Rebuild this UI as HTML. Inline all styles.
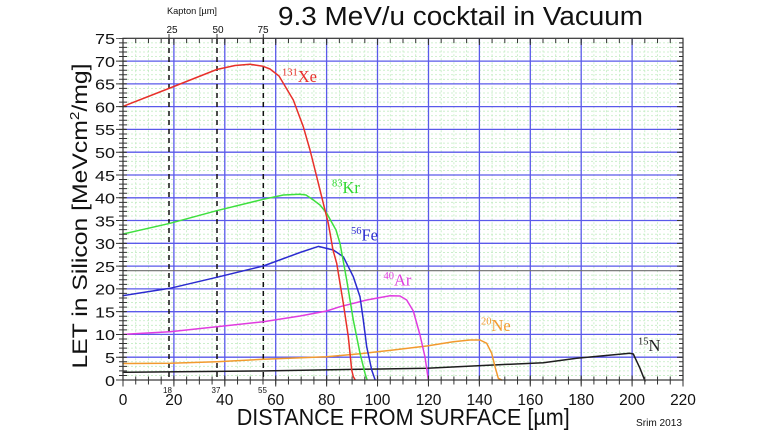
<!DOCTYPE html>
<html><head><meta charset="utf-8"><style>
html,body{margin:0;padding:0;background:#fff;}
svg{display:block;}
text{font-family:"Liberation Sans",Arial,sans-serif;fill:#111;}
.s{font-family:"Liberation Serif","Times New Roman",serif;}
</style></head><body>
<svg width="768" height="432" viewBox="0 0 768 432" xmlns="http://www.w3.org/2000/svg">
<rect width="768" height="432" fill="#fff"/>
<rect x="123" y="38.3" width="560" height="341.7" fill="#fff"/>
<!-- minor grid -->
<path fill="none" stroke="#c2ecc2" stroke-width="0.8" stroke-dasharray="2 2" d="M135.7 38.3V380M148.5 38.3V380M161.2 38.3V380M186.6 38.3V380M199.4 38.3V380M212.1 38.3V380M237.5 38.3V380M250.3 38.3V380M263 38.3V380M288.5 38.3V380M301.2 38.3V380M313.9 38.3V380M339.4 38.3V380M352.1 38.3V380M364.8 38.3V380M390.3 38.3V380M403 38.3V380M415.7 38.3V380M441.2 38.3V380M453.9 38.3V380M466.6 38.3V380M492.1 38.3V380M504.8 38.3V380M517.5 38.3V380M543 38.3V380M555.7 38.3V380M568.5 38.3V380M593.9 38.3V380M606.6 38.3V380M619.4 38.3V380M644.8 38.3V380M657.5 38.3V380M670.3 38.3V380
M123 375.44H683M123 370.89H683M123 366.33H683M123 361.78H683M123 352.66H683M123 348.11H683M123 343.55H683M123 339H683M123 329.88H683M123 325.33H683M123 320.77H683M123 316.22H683M123 307.1H683M123 302.55H683M123 297.99H683M123 293.44H683M123 284.32H683M123 279.77H683M123 275.21H683M123 261.54H683M123 256.99H683M123 252.43H683M123 247.88H683M123 238.76H683M123 234.21H683M123 229.65H683M123 225.1H683M123 215.98H683M123 211.43H683M123 206.87H683M123 202.32H683M123 193.2H683M123 188.65H683M123 184.09H683M123 179.54H683M123 170.42H683M123 165.87H683M123 161.31H683M123 156.76H683M123 147.64H683M123 143.09H683M123 138.53H683M123 133.98H683M123 124.86H683M123 120.31H683M123 115.75H683M123 111.2H683M123 102.08H683M123 97.53H683M123 92.97H683M123 88.42H683M123 79.3H683M123 74.75H683M123 70.19H683M123 65.64H683M123 56.52H683M123 51.97H683M123 47.41H683M123 42.86H683"/>
<!-- major grid -->
<path fill="none" stroke="#5a5aea" stroke-width="1.3" d="M173.9 38.3V380M224.8 38.3V380M275.7 38.3V380M326.6 38.3V380M377.5 38.3V380M428.5 38.3V380M479.4 38.3V380M530.3 38.3V380M581.2 38.3V380M632.1 38.3V380
M123 357.2H683M123 334.4H683M123 311.7H683M123 288.9H683M123 266.1H683M123 243.3H683M123 220.5H683M123 197.8H683M123 175H683M123 152.2H683M123 129.4H683M123 106.6H683M123 83.9H683M123 61.1H683"/>
<!-- threshold gray line -->
<path d="M123 270.7H683" stroke="#6e6e6e" stroke-width="1.2"/>
<!-- kapton dashed lines -->
<path d="M169 39V380M217 39V380M263.3 39V380" stroke="#111" stroke-width="1.5" stroke-dasharray="5 4" fill="none"/>
<!-- curves -->
<g fill="none" stroke-width="1.5" stroke-linejoin="round" stroke-linecap="round">
<polyline stroke="#1e1e1e" points="123,372.3 260,371 360,369.3 426.7,368.3 493.3,365 543.3,362.7 576.7,358.3 630,353.3 633.3,354 640,368.3 645,381"/>
<polyline stroke="#f29a2e" points="123,363.5 170,363.3 216.7,361.7 263.3,359.3 326.7,356.7 360,353.8 393.3,350 426.7,346 453.3,341.7 470,340 480,340 486.7,343.3 491.7,353.3 495,366.7 498.3,378.3 501.7,380"/>
<polyline stroke="#e03ce0" points="123,334.4 170,331.7 216.7,326.7 263.3,321.7 300,316 326.7,311 340,306.7 366.7,300 390,295.7 400,296 406.7,300 413.3,311 420,335 425,357 428.3,379.5"/>
<polyline stroke="#2b2bd0" points="123,295.6 170,288.3 216.7,277.3 263.3,266 300,252.5 318.3,246.4 333.3,250 343.3,256.7 353.3,276.7 360,296.7 363.3,320 366.7,346.7 371.7,370 375,379.5"/>
<polyline stroke="#3ee03e" points="123,234 170,223.3 216.7,210.7 263.3,199.3 283.3,195 300,194.3 306,195 313.3,200 320,205 326.7,213.3 336,230 340,243.3 346.7,280 353.3,320 360,353.3 365,373.3 367,379.5"/>
<polyline stroke="#e8302a" points="123,106.4 170,88 216.7,69.5 235,65.5 250,64.3 263,66.3 270,69 279,76 293.3,100 303.3,126.7 310,150 316.7,176.7 323.3,203.3 328.3,223.3 333,250 336.7,263.3 343.3,303.3 348.3,336.7 351.7,370 353.3,376.7 355,379.5"/>
</g>
<!-- ticks -->
<g fill="none" stroke="#333">
<path d="M123 380.5V38" stroke-width="8" stroke-dasharray="1 3.556"/>
<path d="M121 380.5V38" stroke-width="10" stroke-dasharray="1 21.78"/>
<path d="M681 380.5V38" stroke-width="4" stroke-dasharray="1 3.556"/>
<path d="M680 380.5V38" stroke-width="6" stroke-dasharray="1 21.78"/>
<path d="M122.5 380.5H685" stroke-width="8" stroke-dasharray="1 11.727"/>
<path d="M122.5 381H685" stroke-width="11" stroke-dasharray="1 49.91"/>
<path d="M122.5 41H685" stroke-width="4" stroke-dasharray="1 11.727"/>
<path d="M122.5 42H685" stroke-width="6" stroke-dasharray="1 49.91"/>
<path d="M169 34V39M217 34V39M263.3 34V39" stroke-width="1"/>
</g>
<rect x="123" y="38.3" width="560" height="341.7" fill="none" stroke="#333" stroke-width="1.2"/>
<!-- curve labels -->
<g font-size="16.5">
<text class="s" x="282" y="82" style="fill:#e8302a"><tspan font-size="10.5" dy="-6.5">131</tspan><tspan dy="6.5">Xe</tspan></text>
<text class="s" x="332" y="193" style="fill:#2ed82e"><tspan font-size="10.5" dy="-6.5">83</tspan><tspan dy="6.5">Kr</tspan></text>
<text class="s" x="351" y="240.5" style="fill:#2b2bd0"><tspan font-size="10.5" dy="-6.5">56</tspan><tspan dy="6.5">Fe</tspan></text>
<text class="s" x="383.5" y="285.5" style="fill:#e03ce0"><tspan font-size="10.5" dy="-6.5">40</tspan><tspan dy="6.5">Ar</tspan></text>
<text class="s" x="481" y="331" style="fill:#f29a2e"><tspan font-size="10.5" dy="-6.5">20</tspan><tspan dy="6.5">Ne</tspan></text>
<text class="s" x="638" y="351" style="fill:#1e1e1e"><tspan font-size="10.5" dy="-6.5">15</tspan><tspan dy="6.5">N</tspan></text>
</g>
<!-- y tick labels -->
<g font-size="15" text-anchor="end">
<text x="115" y="385.8" textLength="10" lengthAdjust="spacingAndGlyphs">0</text>
<text x="115" y="363" textLength="10" lengthAdjust="spacingAndGlyphs">5</text>
<text x="115" y="340.2" textLength="20" lengthAdjust="spacingAndGlyphs">10</text>
<text x="115" y="317.5" textLength="20" lengthAdjust="spacingAndGlyphs">15</text>
<text x="115" y="294.7" textLength="20" lengthAdjust="spacingAndGlyphs">20</text>
<text x="115" y="271.9" textLength="20" lengthAdjust="spacingAndGlyphs">25</text>
<text x="115" y="249.1" textLength="20" lengthAdjust="spacingAndGlyphs">30</text>
<text x="115" y="226.3" textLength="20" lengthAdjust="spacingAndGlyphs">35</text>
<text x="115" y="203.6" textLength="20" lengthAdjust="spacingAndGlyphs">40</text>
<text x="115" y="180.8" textLength="20" lengthAdjust="spacingAndGlyphs">45</text>
<text x="115" y="158" textLength="20" lengthAdjust="spacingAndGlyphs">50</text>
<text x="115" y="135.2" textLength="20" lengthAdjust="spacingAndGlyphs">55</text>
<text x="115" y="112.4" textLength="20" lengthAdjust="spacingAndGlyphs">60</text>
<text x="115" y="89.7" textLength="20" lengthAdjust="spacingAndGlyphs">65</text>
<text x="115" y="66.9" textLength="20" lengthAdjust="spacingAndGlyphs">70</text>
<text x="115" y="44.1" textLength="20" lengthAdjust="spacingAndGlyphs">75</text>
</g>
<!-- x tick labels -->
<g font-size="15.5" text-anchor="middle">
<text x="123" y="405">0</text>
<text x="173.9" y="405">20</text>
<text x="224.8" y="405">40</text>
<text x="275.7" y="405">60</text>
<text x="326.6" y="405">80</text>
<text x="377.5" y="405">100</text>
<text x="428.5" y="405">120</text>
<text x="479.4" y="405">140</text>
<text x="530.3" y="405">160</text>
<text x="581.2" y="405">180</text>
<text x="632.1" y="405">200</text>
<text x="683" y="405">220</text>
</g>
<!-- kapton labels -->
<text x="167" y="14" font-size="9.5" textLength="50" lengthAdjust="spacingAndGlyphs">Kapton [µm]</text>
<g font-size="10" text-anchor="middle">
<text x="172" y="33">25</text>
<text x="218" y="33">50</text>
<text x="263" y="33">75</text>
</g>
<g font-size="8" text-anchor="middle">
<text x="167.5" y="393">18</text>
<text x="216" y="393">37</text>
<text x="262.5" y="393">55</text>
</g>
<!-- titles -->
<text x="278" y="25" font-size="25.5" textLength="365" lengthAdjust="spacingAndGlyphs">9.3 MeV/u cocktail in Vacuum</text>
<text x="236.7" y="425" font-size="23" textLength="333" lengthAdjust="spacingAndGlyphs">DISTANCE FROM SURFACE [µm]</text>
<text transform="translate(87,216) rotate(-90)" x="0" y="0" font-size="21" text-anchor="middle" textLength="305" lengthAdjust="spacingAndGlyphs">LET in Silicon [MeVcm<tspan font-size="13" dy="-8">2</tspan><tspan dy="8">/mg]</tspan></text>
<text x="636" y="426" font-size="10.5" textLength="46" lengthAdjust="spacingAndGlyphs">Srim 2013</text>
</svg>
</body></html>
